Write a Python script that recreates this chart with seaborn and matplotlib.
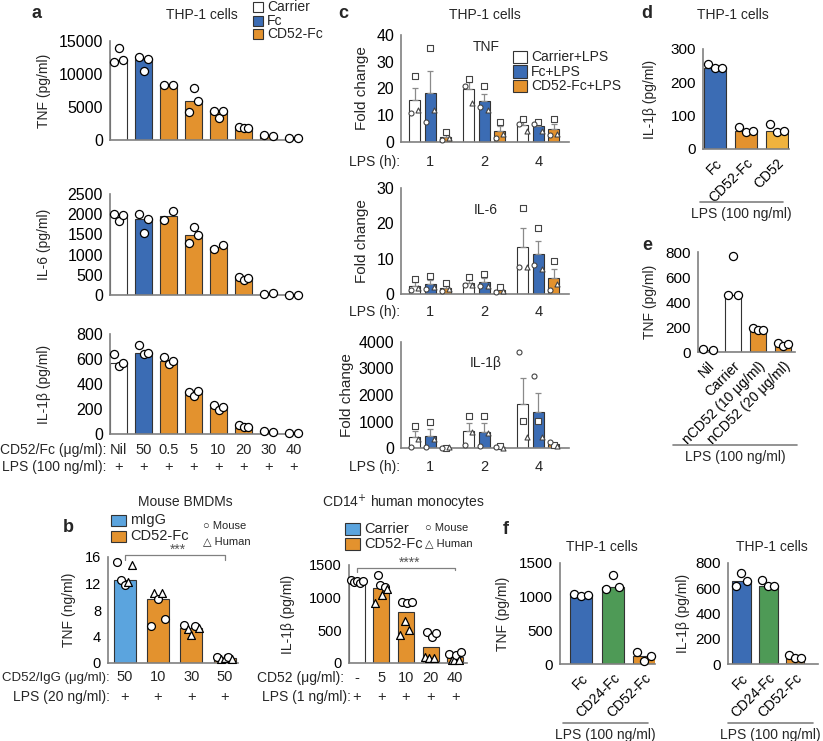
import numpy as np
import pandas as pd
import matplotlib
matplotlib.use("Agg")
import matplotlib.pyplot as plt
from matplotlib import transforms
from matplotlib.patches import Rectangle
from matplotlib.lines import Line2D
import seaborn as sns

sns.set_style("white")
plt.rcParams["font.family"] = ["Liberation Sans", "DejaVu Sans"]
plt.rcParams["font.size"] = 10

# ---------------- data ----------------
# panel a: THP-1 cells, CD52/Fc dose series
a_doses = ["Nil", "50", "0.5", "5", "10", "20", "30", "40"]
a_tnf = [[11770, 13980, 12120], [12580, 10470, 12280], [8400, 8400], [4180, 7900, 5940],
         [4380, 3270, 4380], [2010, 1760, 1860], [750, 600], [350, 350]]
a_il6 = [[2010, 1840, 1990], [2000, 1530, 1880], [1850, 2080], [1275, 1680, 1480],
         [1150, 1230], [455, 370, 420], [25, 40], [0, 0]]
a_il1b = [[638, 545, 566], [712, 640, 646], [617, 561, 587], [340, 306, 345],
          [234, 189, 215], [69, 53, 56], [24, 19], [11, 11]]

# panel b: mouse BMDMs (TNF, ng/ml) and CD14+ monocytes (IL-1b, pg/ml); M = mouse, H = human
b_mouse_doses = ["50", "10", "30", "50"]
b_mouse_tnf = [[15.2, 12.5, 11.8, 12.2, 14.8], [5.6, 10.6, 9.6, 10.6, 6.7],
               [5.7, 5.1, 4.2, 5.6, 5.3], [0.9, 0.66, 0.7, 0.9, 0.6]]
b_mouse_sp = [["M", "M", "M", "H", "H"], ["M", "H", "M", "H", "M"],
              ["M", "H", "H", "M", "H"], ["M", "H", "H", "M", "H"]]
b_mono_doses = ["-", "5", "10", "20", "40"]
b_mono_il1b = [[1270, 1235, 1260, 1225, 1250], [921, 1346, 1193, 1039, 1170, 1131],
               [425, 937, 645, 920, 502, 937], [92, 476, 82, 399, 75, 461],
               [143, 51, 41, 130, 45, 169]]
b_mono_sp = [["M", "M", "M", "M", "M"], ["H", "M", "M", "H", "M", "H"],
             ["H", "M", "H", "M", "H", "M"], ["H", "M", "H", "M", "H", "M"],
             ["M", "H", "H", "M", "H", "M"]]

# panel c: fold change, rows = LPS time (1, 2, 4 h), cols = Carrier, Fc, CD52-Fc
c_times = ["1", "2", "4"]
c_treat = ["Carrier+LPS", "Fc+LPS", "CD52-Fc+LPS"]
c_tnf_sq = [[24.75, 35, 3.75], [23.5, 20.9, 7.5], [8.75, 7.4, 8.75]]
c_tnf_ci = [[11, 7.5, 0.6], [20.9, 12.9, 1.6], [6.6, 6.9, 2.5]]
c_tnf_tr = [[11.9, 11.9, 1.6], [14.6, 11.9, 3.1], [4.0, 4.0, 3.1]]
c_il6_sq = [[4.2, 5.0, 3.1], [4.8, 5.7, 2.0], [24.3, 18.7, 9.4]]
c_il6_ci = [[1.2, 1.5, 0.75], [2.45, 2.4, 0.66], [7.6, 8.3, 1.2]]
c_il6_tr = [[1.7, 2.0, 1.4], [2.45, 2.4, 0.75], [7.6, 7.1, 2.9]]
c_il1b_sq = [[843, 981, 13], [1195, 1195, 63], [1006, 1006, 126]]
c_il1b_ci = [[25, 25, 10], [126, 88, 20], [3610, 2705, 214]]
c_il1b_tr = [[352, 352, 20], [604, 566, 10], [415, 415, 63]]

# panel d
d_labels = ["Fc", "CD52-Fc", "CD52"]
d_il1b = [[255, 243, 243], [66, 50, 53], [76, 50, 55]]
# panel e
e_labels = ["Nil", "Carrier", "nCD52 (10 μg/ml)", "nCD52 (20 μg/ml)"]
e_tnf = [[27, 13], [453, 768, 460], [192, 173, 175], [72, 45, 61]]
# panel f
f_labels = ["Fc", "CD24-Fc", "CD52-Fc"]
f_tnf = [[1043, 1003, 1018], [1118, 1326, 1137], [184, 50, 124]]
f_il1b = [[615, 720, 654], [668, 620, 620], [72, 45, 45]]

# ---------------- style ----------------
WHITE = "#ffffff"
BLUE = "#3b6cb4"
ORANGE = "#e3922e"
LBLUE = "#5ba4de"
GREEN = "#4e9a56"
YEL = "#f0b33e"
EDGE = "#333333"
GRAY = "#808080"

W, H = 823, 741
fig = plt.figure(figsize=(W / 100, H / 100), dpi=100)
fig.patch.set_facecolor("white")


def add_ax(x0, y0, x1, y1):
    return fig.add_axes([x0 / W, 1 - y1 / H, (x1 - x0) / W, (y1 - y0) / H])


def ftext(x, y, s, **kw):
    kw.setdefault("ha", "center")
    kw.setdefault("va", "center")
    fig.text(x / W, 1 - y / H, s, **kw)


def style(ax, xlim, ylim, yticks, ylabel, ylab_x, n, tick_fs=11, lab_fs=10):
    ax.set_xlim(xlim)
    ax.set_ylim(ylim)
    ax.set_yticks(yticks)
    ax.set_xticks(range(n))
    ax.set_xticklabels([])
    ax.set_xlabel("")
    sns.despine(ax=ax)
    for s in ["left", "bottom"]:
        ax.spines[s].set_color(GRAY)
        ax.spines[s].set_linewidth(1.2)
    ax.tick_params(axis="both", colors=GRAY, labelcolor="black", length=3, width=1,
                   labelsize=tick_fs, pad=2)
    ax.set_ylabel(ylabel, fontsize=lab_fs, va="center")
    pos = ax.get_position()
    ax.yaxis.set_label_coords((ylab_x - pos.x0 * W) / (pos.width * W), 0.5)


def bars(ax, groups, colors, width, estimator="median"):
    df = pd.DataFrame({
        "g": np.repeat(np.arange(len(groups)), [len(v) for v in groups]),
        "v": np.concatenate([np.asarray(v, float) for v in groups]),
    })
    sns.barplot(data=df, x="g", y="v", hue="g", palette=dict(enumerate(colors)),
                estimator=estimator, errorbar=None, width=width, saturation=1,
                edgecolor=EDGE, linewidth=0.8, legend=False, ax=ax)


MK = {"M": "o", "H": "^"}


def dots(ax, groups, spread, s=34, species=None):
    for i, vals in enumerate(groups):
        n = len(vals)
        offs = np.linspace(-spread, spread, n) if n > 1 else np.zeros(1)
        sp = species[i] if species else ["M"] * n
        for x, v, m in zip(i + offs, vals, sp):
            ax.scatter(x, v, s=s, marker=MK[m], facecolor="white", edgecolor="black",
                       linewidth=0.9, zorder=3, clip_on=False)


def row(ax, y, labels, name=None, name_x=None, fs=10.5):
    tr = transforms.blended_transform_factory(ax.transData, fig.transFigure)
    for i, s in enumerate(labels):
        ax.text(i, 1 - y / H, s, transform=tr, ha="center", va="center", fontsize=fs)
    if name:
        ftext(name_x, y, name, ha="right", fontsize=10)


def legend_sq(x, y, color, label, w=11, h=11, fs=10):
    fig.add_artist(Rectangle((x / W, 1 - (y + h / 2) / H), w / W, h / H,
                             transform=fig.transFigure, facecolor=color,
                             edgecolor=EDGE, linewidth=0.8))
    ftext(x + w + 4, y, label, ha="left", fontsize=fs)


def underline(x0, x1, y, label):
    fig.add_artist(Line2D([x0 / W, x1 / W], [1 - y / H, 1 - y / H],
                          transform=fig.transFigure, color=GRAY, lw=1.2))
    ftext((x0 + x1) / 2, y + 12, label)


def rot_labels(ax, labels):
    ax.set_xticklabels(labels, rotation=45, ha="right", rotation_mode="anchor", fontsize=10)


# ---------------- panel a ----------------
a_colors = [WHITE, BLUE] + [ORANGE] * 6
a_boxes = [(110, 41, 301, 140), (110, 194, 301, 295), (110, 334, 301, 434)]
a_sets = [(a_tnf, (0, 15000), [0, 5000, 10000, 15000], "TNF (pg/ml)"),
          (a_il6, (0, 2500), [0, 500, 1000, 1500, 2000, 2500], "IL-6 (pg/ml)"),
          (a_il1b, (0, 800), [0, 200, 400, 600, 800], "IL-1β (pg/ml)")]
for box, (vals, ylim, yt, lab) in zip(a_boxes, a_sets):
    ax = add_ax(*box)
    bars(ax, vals, a_colors, 0.67)
    dots(ax, vals, 0.17)
    style(ax, (-0.34, 7.3), ylim, yt, lab, 44, len(vals), tick_fs=11.5)
row(ax, 450, a_doses, "CD52/Fc (μg/ml):", 106)
row(ax, 467, ["+"] * 8, "LPS (100 ng/ml):", 106)
ftext(37, 13, "a", fontsize=13, fontweight="bold")
ftext(202, 15, "THP-1 cells")
legend_sq(253, 7, WHITE, "Carrier", w=10, h=10)
legend_sq(253, 21, BLUE, "Fc", w=10, h=10)
legend_sq(253, 34, ORANGE, "CD52-Fc", w=10, h=10)

# ---------------- panel b ----------------
ax = add_ax(108, 557, 238, 663)
bars(ax, b_mouse_tnf, [LBLUE, ORANGE, ORANGE, ORANGE], 0.66)
dots(ax, b_mouse_tnf, 0.22, s=32, species=b_mouse_sp)
style(ax, (-0.5, 3.4), (0, 16), [0, 4, 8, 12, 16], "TNF (ng/ml)", 69, 4, tick_fs=10.5)
ax.plot([0, 0, 3, 3], [15.6, 16.3, 16.3, 15.5], color=GRAY, lw=0.9, clip_on=False)
ax.text(1.6, 17.1, "***", ha="center", va="center", color="#555555", fontsize=10)
row(ax, 677, b_mouse_doses)
row(ax, 697, ["+"] * 4, "LPS (20 ng/ml):", 110)
ftext(110, 678, "CD52/IgG (μg/ml):", ha="right", fontsize=9.5)

ax = add_ax(349, 565, 467, 663)
bars(ax, b_mono_il1b, [WHITE, ORANGE, ORANGE, ORANGE, ORANGE], 0.65)
dots(ax, b_mono_il1b, 0.24, s=32, species=b_mono_sp)
style(ax, (-0.31, 4.48), (0, 1500), [0, 500, 1000, 1500], "IL-1β (pg/ml)", 288, 5,
      tick_fs=10.5)
ax.plot([0, 0, 4, 4], [1400, 1460, 1460, 1420], color=GRAY, lw=0.9, clip_on=False)
ax.text(2.15, 1530, "****", ha="center", va="center", color="#555555", fontsize=10)
row(ax, 678, b_mono_doses)
ftext(344, 678, "CD52 (μg/ml):", ha="right", fontsize=10)
row(ax, 697, ["+"] * 5, "LPS (1 ng/ml):", 351)

ftext(68, 528, "b", fontsize=13, fontweight="bold")
ftext(185, 502, "Mouse BMDMs")
legend_sq(111, 520, LBLUE, "mIgG", w=15, h=11, fs=10.5)
legend_sq(111, 536, ORANGE, "CD52-Fc", w=15, h=11, fs=10.5)
ftext(203, 526, "○ Mouse", ha="left", fontsize=8)
ftext(203, 541, "△ Human", ha="left", fontsize=8)
ftext(403, 503, "CD14$^{+}$ human monocytes")
legend_sq(345, 529, LBLUE, "Carrier", w=15, h=12, fs=10.5)
legend_sq(345, 544, ORANGE, "CD52-Fc", w=15, h=12, fs=10.5)
ftext(425, 528, "○ Mouse", ha="left", fontsize=8)
ftext(425, 543, "△ Human", ha="left", fontsize=8)

# ---------------- panel c ----------------
c_pal = dict(zip(c_treat, [WHITE, BLUE, ORANGE]))
C_MK = {"square": "s", "circle": "o", "triangle": "^"}
C_DX = {"circle": -0.07, "square": 0.0, "triangle": 0.07}


def c_panel(box, sq, ci, trg, ylim, yt, title, title_y, ylab_x, lps_y):
    ax = add_ax(*box)
    rows = []
    for donor, arr in (("square", sq), ("circle", ci), ("triangle", trg)):
        for ti in range(len(c_times)):
            for hi, tr in enumerate(c_treat):
                rows.append((ti, tr, donor, arr[ti][hi]))
    df = pd.DataFrame(rows, columns=["t", "treat", "donor", "v"])
    width = 0.86
    sns.barplot(data=df, x="t", y="v", hue="treat", hue_order=c_treat, palette=c_pal,
                errorbar=None, width=width, gap=0.3, saturation=1, edgecolor=EDGE,
                linewidth=0.8, legend=False, ax=ax)
    step = width / len(c_treat)
    stats = df.groupby(["t", "treat"])["v"].agg(["mean", "sem"])
    for ti in range(len(c_times)):
        for hi, tr in enumerate(c_treat):
            xc = ti + (hi - 1) * step
            m, se = stats.loc[(ti, tr)]
            ax.errorbar(xc, m, yerr=[[0], [se]], color="#8a8a8a", capsize=2, lw=0.9,
                        capthick=0.9, zorder=2)
            sub = df[(df.t == ti) & (df.treat == tr)]
            for _, r in sub.iterrows():
                ax.scatter(xc + C_DX[r.donor], r.v, s=13, marker=C_MK[r.donor],
                           facecolor="white", edgecolor="#444444", linewidth=0.8,
                           zorder=3, clip_on=False)
    style(ax, (-0.54, 2.57), ylim, yt, "Fold change", ylab_x, 3, tick_fs=11.5, lab_fs=11)
    row(ax, lps_y, c_times, "LPS (h):", 400)
    ftext(486, title_y, title)
    return ax


c_panel((401, 35, 569, 142), c_tnf_sq, c_tnf_ci, c_tnf_tr, (0, 40), [0, 10, 20, 30, 40],
        "TNF", 47, 362, 162)
c_panel((401, 188, 569, 294), c_il6_sq, c_il6_ci, c_il6_tr, (0, 30), [0, 10, 20, 30],
        "IL-6", 210, 362, 312)
c_panel((401, 342, 569, 448), c_il1b_sq, c_il1b_ci, c_il1b_tr, (0, 4000),
        [0, 1000, 2000, 3000, 4000], "IL-1β", 363, 347, 467)
ftext(343, 13, "c", fontsize=13, fontweight="bold")
ftext(485, 15, "THP-1 cells")
for i, (tr, col) in enumerate(c_pal.items()):
    legend_sq(513, 57 + i * 14.5, col, tr, w=14, h=12)

# ---------------- panel d ----------------
ax = add_ax(703, 49, 789, 149)
bars(ax, d_il1b, [BLUE, ORANGE, YEL], 0.7)
dots(ax, d_il1b, 0.22)
style(ax, (-0.38, 2.38), (0, 300), [0, 100, 200, 300], "IL-1β (pg/ml)", 650, 3)
rot_labels(ax, d_labels)
underline(700, 783, 202, "LPS (100 ng/ml)")
ftext(647, 13, "d", fontsize=13, fontweight="bold")
ftext(733, 15, "THP-1 cells")

# ---------------- panel e ----------------
ax = add_ax(698, 252, 795, 352)
bars(ax, e_tnf, [WHITE, WHITE, ORANGE, ORANGE], 0.64)
dots(ax, e_tnf, 0.2)
style(ax, (-0.4, 3.48), (0, 800), [0, 200, 400, 600, 800], "TNF (pg/ml)", 650, 4)
rot_labels(ax, e_labels)
underline(673, 797, 445, "LPS (100 ng/ml)")
ftext(647, 245, "e", fontsize=13, fontweight="bold")

# ---------------- panel f ----------------
ax = add_ax(560, 563, 655, 664)
bars(ax, f_tnf, [BLUE, GREEN, ORANGE], 0.7)
dots(ax, f_tnf, 0.22)
style(ax, (-0.67, 2.35), (0, 1500), [0, 500, 1000, 1500], "TNF (pg/ml)", 503, 3)
rot_labels(ax, f_labels)
underline(563, 648, 723, "LPS (100 ng/ml)")
ftext(602, 547, "THP-1 cells")

ax = add_ax(728, 563, 818, 664)
bars(ax, f_il1b, [BLUE, GREEN, ORANGE], 0.7)
dots(ax, f_il1b, 0.22)
style(ax, (-0.5, 2.86), (0, 800), [0, 200, 400, 600, 800], "IL-1β (pg/ml)", 683, 3)
rot_labels(ax, f_labels)
underline(728, 813, 723, "LPS (100 ng/ml)")
ftext(772, 547, "THP-1 cells")
ftext(506, 529, "f", fontsize=13, fontweight="bold")

fig.savefig("out.png", dpi=100, facecolor="white")
